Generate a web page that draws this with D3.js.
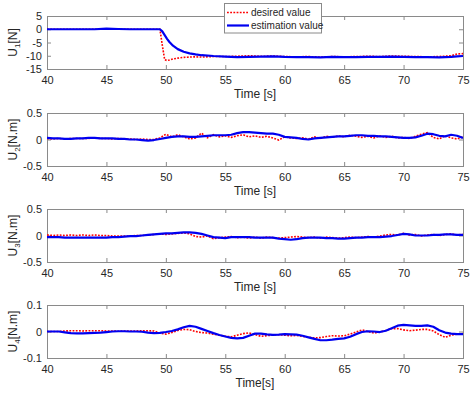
<!DOCTYPE html>
<html>
<head>
<meta charset="utf-8">
<script src="https://cdn.jsdelivr.net/npm/d3@7"></script>
<style>
  body { margin: 0; background: #fff; }
  svg { display: block; font-family: "Liberation Sans", Arial, sans-serif; }
</style>
</head>
<body>
<div id="chart"></div>
<script>
// panel 1 time base (finer around the step at ~49.5 s)
const t1 = [40, 41, 42, 43, 44, 45, 46, 47, 48, 49, 49.5, 49.7, 49.9, 50.1, 50.3, 50.6, 51, 51.5, 52, 52.5, 53,
  54, 55, 56, 57, 58, 59, 60, 61, 62, 63, 64, 65, 66, 67, 68, 69, 70, 71, 72, 73, 74, 74.5, 75];
const u1Desired = [0, 0, 0, 0, 0, 0, 0, 0, 0, 0, 0, -6, -11.5, -11.8, -11.6, -11.2, -10.9, -10.6, -10.5, -10.4, -10.5,
  -10.3, -10.3, -10.2, -10.0, -10.2, -10.1, -10.3, -10.4, -10.3, -10.5, -10.3, -10.4, -10.3, -10.2, -10.3, -10.1, -10.2, -10.3, -10.4, -10.3, -10.0, -9.3, -9.2];
const u1Estim = [0, 0, 0, 0, 0, 0.2, 0.1, 0, 0, 0, 0, -0.8, -2.2, -3.6, -4.8, -6.2, -7.5, -8.5, -9.1, -9.5, -9.8,
  -10.1, -10.3, -10.5, -10.4, -10.3, -10.2, -10.4, -10.5, -10.5, -10.6, -10.4, -10.5, -10.5, -10.4, -10.4, -10.3, -10.4, -10.5, -10.5, -10.6, -10.4, -10.2, -10.1];

// time base for panels 2-4 (0.5 s)
const t = [40, 40.5, 41, 41.5, 42, 42.5, 43, 43.5, 44, 44.5, 45, 45.5, 46, 46.5, 47, 47.5, 48, 48.5, 49, 49.5,
  50, 50.5, 51, 51.5, 52, 52.5, 53, 53.5, 54, 54.5, 55, 55.5, 56, 56.5, 57, 57.5, 58, 58.5, 59, 59.5,
  60, 60.5, 61, 61.5, 62, 62.5, 63, 63.5, 64, 64.5, 65, 65.5, 66, 66.5, 67, 67.5, 68, 68.5, 69, 69.5,
  70, 70.5, 71, 71.5, 72, 72.5, 73, 73.5, 74, 74.5, 75];

const u2Desired = [0.02, 0.01, 0.02, 0.01, 0.02, 0.02, 0.02, 0.02, 0.03, 0.02, 0.02, 0.01, 0.02, 0.01, 0.01, 0.00, 0.01, 0.00, 0.00, 0.03,
  0.10, 0.05, 0.09, 0.05, 0.01, 0.03, 0.12, 0.03, 0.09, 0.05, 0.07, 0.04, 0.07, 0.09, 0.05, 0.07, 0.04, 0.06, 0.03, -0.01,
  0.05, 0.03, 0.02, 0.03, 0.01, 0.05, 0.02, 0.06, 0.04, 0.07, 0.05, 0.08, 0.06, 0.04, 0.06, 0.03, 0.07, 0.04, 0.06, 0.03,
  0.04, 0.02, 0.06, 0.10, 0.13, 0.04, 0.01, 0.07, 0.03, 0.01, 0.05];
const u2Estim = [0.03, 0.02, 0.02, 0.01, 0.01, 0.02, 0.02, 0.03, 0.03, 0.02, 0.02, 0.02, 0.01, 0.01, 0.00, 0.00, -0.01, -0.02, -0.01, 0.01,
  0.03, 0.05, 0.06, 0.06, 0.05, 0.05, 0.06, 0.07, 0.08, 0.08, 0.08, 0.09, 0.12, 0.14, 0.14, 0.13, 0.12, 0.11, 0.11, 0.09,
  0.05, 0.04, 0.03, 0.01, 0.00, 0.02, 0.03, 0.04, 0.05, 0.06, 0.06, 0.07, 0.08, 0.08, 0.07, 0.07, 0.06, 0.06, 0.05, 0.04,
  0.03, 0.03, 0.04, 0.07, 0.11, 0.10, 0.07, 0.06, 0.09, 0.07, 0.03];

const u3Desired = [0.01, 0.00, 0.01, 0.00, 0.01, 0.00, 0.01, 0.00, 0.01, 0.00, 0.00, -0.01, -0.01, -0.01, -0.01, 0.00, 0.00, 0.01, 0.02, 0.03,
  0.02, 0.03, 0.04, 0.05, 0.03, -0.02, -0.03, -0.01, -0.06, -0.04, -0.03, -0.02, -0.04, -0.03, -0.05, -0.03, -0.05, -0.03, -0.04, -0.05,
  -0.04, -0.03, -0.02, -0.03, -0.04, -0.03, -0.05, -0.03, -0.04, -0.05, -0.04, -0.03, -0.04, -0.03, -0.02, -0.03, -0.01, 0.01, 0.02, 0.01,
  0.04, 0.01, 0.02, -0.01, 0.01, 0.02, 0.00, 0.02, 0.03, 0.01, 0.02];
const u3Estim = [-0.03, -0.03, -0.03, -0.04, -0.04, -0.04, -0.04, -0.04, -0.04, -0.04, -0.04, -0.03, -0.03, -0.02, -0.01, -0.01, 0.00, 0.01, 0.02, 0.03,
  0.04, 0.04, 0.05, 0.06, 0.06, 0.05, 0.03, 0.00, -0.03, -0.04, -0.05, -0.03, -0.03, -0.03, -0.03, -0.04, -0.04, -0.04, -0.04, -0.06,
  -0.07, -0.08, -0.07, -0.05, -0.04, -0.04, -0.04, -0.05, -0.05, -0.06, -0.06, -0.05, -0.04, -0.04, -0.03, -0.03, -0.03, -0.02, -0.01, 0.01,
  0.03, 0.02, 0.00, 0.00, 0.00, 0.01, 0.01, 0.02, 0.02, 0.01, 0.01];

const u4Desired = [0.000, 0.000, 0.000, 0.002, 0.003, 0.003, 0.002, 0.003, 0.003, 0.003, 0.002, 0.002, 0.001, 0.002, 0.002, 0.002, 0.003, 0.003, 0.002, -0.006,
  -0.010, -0.004, 0.004, 0.008, 0.007, 0.000, -0.004, -0.006, -0.010, -0.014, -0.018, -0.020, -0.014, -0.008, -0.005, -0.012, -0.018, -0.016, -0.013, -0.012,
  -0.014, -0.016, -0.015, -0.018, -0.022, -0.024, -0.023, -0.019, -0.016, -0.017, -0.016, -0.010, -0.002, 0.006, 0.000, -0.006, -0.002, 0.004, 0.011, 0.011,
  0.006, 0.003, 0.005, 0.008, 0.008, 0.002, -0.012, -0.022, -0.014, -0.010, -0.008];
const u4Estim = [0.000, 0.000, 0.000, -0.003, -0.006, -0.007, -0.007, -0.006, -0.005, -0.004, -0.002, 0.000, 0.001, 0.001, 0.000, 0.000, -0.001, -0.004, -0.006, -0.005,
  -0.002, 0.002, 0.008, 0.016, 0.021, 0.018, 0.010, 0.002, -0.006, -0.013, -0.019, -0.024, -0.026, -0.024, -0.016, -0.008, -0.008, -0.011, -0.013, -0.012,
  -0.010, -0.011, -0.012, -0.016, -0.022, -0.028, -0.033, -0.033, -0.031, -0.028, -0.026, -0.020, -0.010, -0.002, 0.001, 0.000, -0.002, 0.003, 0.012, 0.022,
  0.025, 0.023, 0.021, 0.021, 0.023, 0.018, 0.005, -0.004, -0.008, -0.010, -0.010];

const xTicks = [40, 45, 50, 55, 60, 65, 70, 75];
const legendLabels = ["desired value", "estimation value"];

const panels = [
  {sub: "1", unit: "[N]", time: t1, desired: u1Desired, estim: u1Estim, domain: [-15, 5], ticks: [5, 0, -5, -10, -15], xlabel: "Time [s]"},
  {sub: "2", unit: "[N.m]", time: t, desired: u2Desired, estim: u2Estim, domain: [-0.5, 0.5], ticks: [0.5, 0, -0.5], xlabel: "Time [s]"},
  {sub: "3", unit: "[N.m]", time: t, desired: u3Desired, estim: u3Estim, domain: [-0.5, 0.5], ticks: [0.5, 0, -0.5], xlabel: "Time [s]"},
  {sub: "4", unit: "[N.m]", time: t, desired: u4Desired, estim: u4Estim, domain: [-0.1, 0.1], ticks: [0.1, 0, -0.1], xlabel: "Time[s]"}
];

const width = 474, height = 395;
const left = 47, right = 463;
const tops = [16, 113, 209, 305];
const ph = 53;
const axisColor = "#8a8a8a";
const textColor = "#262626";

const svg = d3.select("#chart").append("svg")
  .attr("width", width).attr("height", height);

const x = d3.scaleLinear().domain([40, 75]).range([left, right]);

panels.forEach((p, i) => {
  const top = tops[i], bottom = top + ph;
  const y = d3.scaleLinear().domain(p.domain).range([bottom, top]);
  const g = svg.append("g");

  g.append("clipPath").attr("id", "clip" + i)
    .append("rect").attr("x", left).attr("y", top).attr("width", right - left).attr("height", ph);

  // ticks, inward on all four sides (matlab box on)
  const bx = d3.axisBottom(x).tickValues(xTicks).tickSizeInner(-4).tickSizeOuter(0).tickPadding(7);
  const gx = g.append("g").attr("transform", `translate(0,${bottom})`).call(bx);
  gx.select(".domain").remove();
  g.append("g").attr("transform", `translate(0,${top})`)
    .call(d3.axisTop(x).tickValues(xTicks).tickSizeInner(-4).tickSizeOuter(0).tickFormat(""))
    .select(".domain").remove();

  const ly = d3.axisLeft(y).tickValues(p.ticks).tickSizeInner(-4).tickSizeOuter(0).tickPadding(5)
    .tickFormat(d => String(d));
  const gy = g.append("g").attr("transform", `translate(${left},0)`).call(ly);
  gy.select(".domain").remove();
  g.append("g").attr("transform", `translate(${right},0)`)
    .call(d3.axisRight(y).tickValues(p.ticks).tickSizeInner(-4).tickSizeOuter(0).tickFormat(""))
    .select(".domain").remove();

  g.selectAll(".tick line").attr("stroke", axisColor);
  g.selectAll(".tick text").attr("fill", textColor).attr("font-size", 11)
    .attr("font-family", "Liberation Sans, Arial, sans-serif");

  g.append("rect")
    .attr("x", left + 0.5).attr("y", top + 0.5)
    .attr("width", right - left).attr("height", ph)
    .attr("fill", "none").attr("stroke", axisColor);

  const rows = p.time.map((tt, k) => ({t: tt, d: p.desired[k], e: p.estim[k]}));
  const lineD = d3.line().x(d => x(d.t)).y(d => y(d.d));
  const lineE = d3.line().x(d => x(d.t)).y(d => y(d.e));

  const lines = g.append("g").attr("clip-path", `url(#clip${i})`);
  lines.append("path").datum(rows).attr("d", lineD)
    .attr("fill", "none").attr("stroke", "#ff0000").attr("stroke-width", 1.6)
    .attr("stroke-dasharray", "1.8,1.4");
  lines.append("path").datum(rows).attr("d", lineE)
    .attr("fill", "none").attr("stroke", "#0000f0").attr("stroke-width", 2.2)
    .attr("stroke-linejoin", "round");

  // y label with subscript
  const yl = g.append("text")
    .attr("transform", `translate(17,${top + ph / 2}) rotate(-90)`)
    .attr("text-anchor", "middle").attr("fill", textColor).attr("font-size", 12);
  yl.append("tspan").text("U");
  yl.append("tspan").text(p.sub).attr("font-size", 8).attr("dy", 3);
  yl.append("tspan").text(p.unit).attr("dy", -3);

  g.append("text")
    .attr("x", (left + right) / 2).attr("y", bottom + 29)
    .attr("text-anchor", "middle").attr("fill", textColor).attr("font-size", 12)
    .text(p.xlabel);
});

// legend
const lg = svg.append("g");
lg.append("rect").attr("x", 224.5).attr("y", 3.5).attr("width", 97).attr("height", 29.5)
  .attr("fill", "#fff").attr("stroke", axisColor);
legendLabels.forEach((lab, k) => {
  const ly = 12.5 + k * 13;
  lg.append("line").attr("x1", 227).attr("x2", 249).attr("y1", ly).attr("y2", ly)
    .attr("stroke", k === 0 ? "#ff0000" : "#0000f0")
    .attr("stroke-width", k === 0 ? 1.6 : 2.2)
    .attr("stroke-dasharray", k === 0 ? "1.8,1.4" : null);
  lg.append("text").attr("x", 251).attr("y", ly + 3.5)
    .attr("fill", textColor).attr("font-size", 10).text(lab);
});
</script>
</body>
</html>
